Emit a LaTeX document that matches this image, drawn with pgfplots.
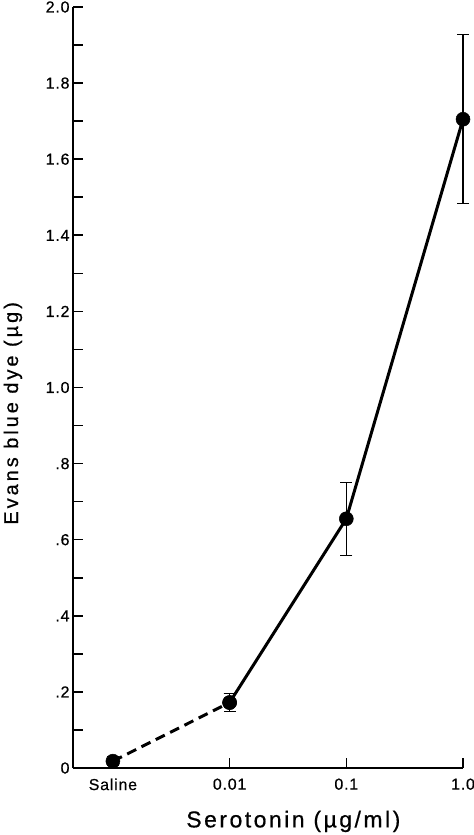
\documentclass[border=0pt]{standalone}
\usepackage{fontspec}
\setmainfont{Liberation Sans}
\newfontfamily\tickfont[LetterSpace=5, FakeBold=0.6]{Liberation Sans}
\newfontfamily\xlabfont[LetterSpace=11, FakeBold=0.6]{Liberation Sans}
\newfontfamily\ylabfont[LetterSpace=15, FakeBold=0.6]{Liberation Sans}
\usepackage{pgfplots}
\pgfplotsset{compat=1.18}

\begin{document}
\begin{tikzpicture}
  \path[use as bounding box] (-73bp,-67bp) rectangle (401bp,768bp);
  \begin{axis}[
    at={(0,0)}, anchor=south west,
    scale only axis, width=390bp, height=761bp,
    xmin=-0.342, xmax=3,
    ymin=0, ymax=2,
    clip=false,
    axis x line=bottom, axis y line=left,
    axis line style={-, line width=2bp},
    tick align=inside,
    major tick length=10bp, minor tick length=10bp,
    every tick/.style={black, line width=1.6bp},
    xtick={1,2,3},
    xticklabels={0.01,0.1,1.0},
    extra x ticks={0},
    extra x tick labels={Saline},
    extra x tick style={major tick length=0pt},
    ytick={0,0.2,0.4,0.6,0.8,1.0,1.2,1.4,1.6,1.8,2.0},
    yticklabels={0,.2,.4,.6,.8,1.0,1.2,1.4,1.6,1.8,2.0},
    minor y tick num=1,
    xticklabel style={font=\tickfont\fontsize{16}{18}\selectfont, yshift=-7bp},
    yticklabel style={font=\tickfont\fontsize{16}{18}\selectfont, xshift=0bp},
    /pgf/number format/assume math mode=true,
    xlabel={Serotonin (µg/ml)},
    ylabel={Evans blue dye (µg)},
    every axis x label/.style={at={(axis description cs:0.565,-0.078)}, anchor=base,
      font=\xlabfont\fontsize{23}{25}\selectfont},
    every axis y label/.style={at={(axis description cs:-0.141,0.466)}, rotate=90, anchor=base,
      font=\ylabfont\fontsize{20}{22}\selectfont},
  ]
    % saline to lowest dose (dashed)
    \addplot[black, line width=3bp, dash pattern=on 10bp off 6bp,
      mark=*, mark size=7bp, mark options={solid, line width=0.5bp},
      error bars/.cd, y dir=both, y explicit,
      error bar style={line width=1.2bp, solid},
      error mark options={rotate=90, mark size=6bp, line width=1.2bp}]
      coordinates {
        (0, 0.018) +- (0, 0.012)
        (1, 0.172) +- (0, 0.024)
      };
    % dose response (solid)
    \addplot[black, line width=3bp,
      mark=*, mark size=7bp, mark options={solid, line width=0.5bp},
      error bars/.cd, y dir=both, y explicit,
      error bar style={line width=1.2bp},
      error mark options={rotate=90, mark size=6bp, line width=1.2bp}]
      coordinates {
        (1, 0.172) +- (0, 0.024)
        (2, 0.655) +- (0, 0.096)
        (3, 1.705) +- (0, 0.222)
      };
  \end{axis}
\end{tikzpicture}
\end{document}
